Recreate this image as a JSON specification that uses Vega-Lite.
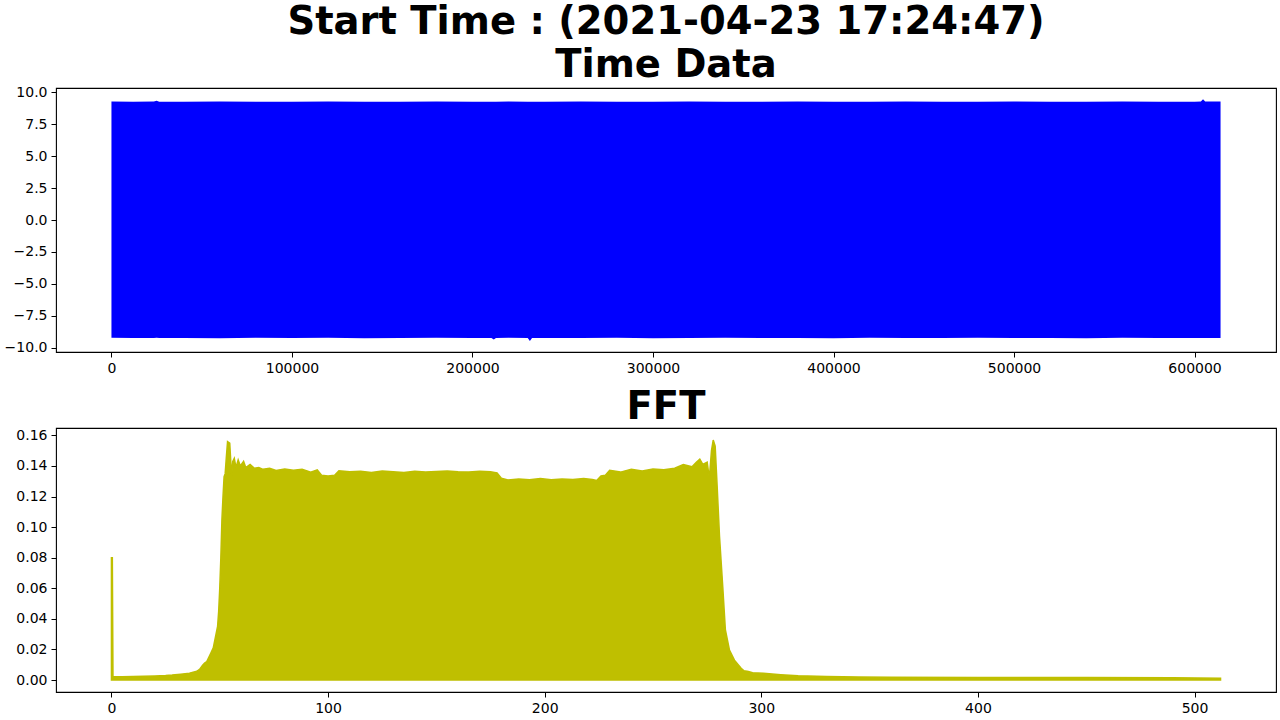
{
  "$schema": "https://vega.github.io/schema/vega-lite/v6.json",
  "padding": {"left": 3, "top": 2, "right": 4, "bottom": 0},
  "spacing": 11,
  "background": "white",
  "config": {
    "view": {"stroke": "black", "strokeWidth": 1.1},
    "font": "DejaVu Sans",
    "axis": {
      "domain": false, "grid": false, "ticks": true, "tickColor": "black", "tickSize": 5, "tickWidth": 1,
      "labelFont": "DejaVu Sans", "labelFontSize": 14, "labelColor": "black", "labelPadding": 4,
      "labelFlush": false, "labelOverlap": false, "title": null
    },
    "title": {"font": "DejaVu Sans", "fontSize": 38.5, "fontWeight": "bold", "color": "black", "anchor": "middle", "offset": 0.01, "lineHeight": 43}
  },
  "vconcat": [
    {
      "width": 1220, "height": 264,
      "title": {"text": ["Start Time : (2021-04-23 17:24:47)", "Time Data"]},
      "data": {"values": [
        {"t": 0, "hi": 9.27, "lo": -9.22},
        {"t": 12000, "hi": 9.26, "lo": -9.24},
        {"t": 23500, "hi": 9.27, "lo": -9.23},
        {"t": 25000, "hi": 9.34, "lo": -9.22},
        {"t": 26500, "hi": 9.26, "lo": -9.23},
        {"t": 40000, "hi": 9.25, "lo": -9.23},
        {"t": 60000, "hi": 9.27, "lo": -9.25},
        {"t": 80000, "hi": 9.26, "lo": -9.22},
        {"t": 100000, "hi": 9.25, "lo": -9.24},
        {"t": 120000, "hi": 9.27, "lo": -9.22},
        {"t": 140000, "hi": 9.26, "lo": -9.25},
        {"t": 160000, "hi": 9.25, "lo": -9.23},
        {"t": 180000, "hi": 9.27, "lo": -9.22},
        {"t": 200000, "hi": 9.26, "lo": -9.24},
        {"t": 210500, "hi": 9.26, "lo": -9.23},
        {"t": 211800, "hi": 9.25, "lo": -9.36},
        {"t": 213000, "hi": 9.26, "lo": -9.23},
        {"t": 220000, "hi": 9.27, "lo": -9.22},
        {"t": 230600, "hi": 9.26, "lo": -9.23},
        {"t": 231800, "hi": 9.26, "lo": -9.47},
        {"t": 233000, "hi": 9.26, "lo": -9.23},
        {"t": 240000, "hi": 9.25, "lo": -9.23},
        {"t": 260000, "hi": 9.27, "lo": -9.24},
        {"t": 280000, "hi": 9.26, "lo": -9.22},
        {"t": 300000, "hi": 9.25, "lo": -9.25},
        {"t": 320000, "hi": 9.27, "lo": -9.23},
        {"t": 340000, "hi": 9.26, "lo": -9.22},
        {"t": 360000, "hi": 9.25, "lo": -9.24},
        {"t": 380000, "hi": 9.27, "lo": -9.23},
        {"t": 400000, "hi": 9.26, "lo": -9.25},
        {"t": 420000, "hi": 9.25, "lo": -9.22},
        {"t": 440000, "hi": 9.27, "lo": -9.24},
        {"t": 460000, "hi": 9.26, "lo": -9.23},
        {"t": 480000, "hi": 9.25, "lo": -9.22},
        {"t": 500000, "hi": 9.27, "lo": -9.24},
        {"t": 520000, "hi": 9.26, "lo": -9.23},
        {"t": 540000, "hi": 9.25, "lo": -9.25},
        {"t": 560000, "hi": 9.27, "lo": -9.22},
        {"t": 580000, "hi": 9.26, "lo": -9.24},
        {"t": 600000, "hi": 9.26, "lo": -9.23},
        {"t": 603500, "hi": 9.27, "lo": -9.23},
        {"t": 604700, "hi": 9.45, "lo": -9.24},
        {"t": 605900, "hi": 9.27, "lo": -9.23},
        {"t": 614400, "hi": 9.27, "lo": -9.24}
      ]},
      "mark": {"type": "area", "color": "#0000ff", "opacity": 1},
      "encoding": {
        "x": {"field": "t", "type": "quantitative", "scale": {"domain": [-30720, 645120], "nice": false, "zero": false},
              "axis": {"values": [0, 100000, 200000, 300000, 400000, 500000, 600000], "format": "d"}},
        "y": {"field": "hi", "type": "quantitative", "scale": {"domain": [-10.33, 10.33], "nice": false, "zero": false},
              "axis": {"values": [-10, -7.5, -5, -2.5, 0, 2.5, 5, 7.5, 10], "format": ".1f"}},
        "y2": {"field": "lo"}
      }
    },
    {
      "width": 1220, "height": 264,
      "title": {"text": "FFT"},
      "data": {"values": [
        {"f": 0, "a": 0.080}, {"f": 0.4, "a": 0.080}, {"f": 0.7, "a": 0.0022},
        {"f": 5, "a": 0.0022}, {"f": 10, "a": 0.0023}, {"f": 15, "a": 0.0024}, {"f": 20, "a": 0.0026},
        {"f": 25, "a": 0.0029}, {"f": 28, "a": 0.0032}, {"f": 32, "a": 0.0038}, {"f": 36, "a": 0.0045},
        {"f": 39, "a": 0.0055}, {"f": 40, "a": 0.0062}, {"f": 41, "a": 0.0075}, {"f": 42, "a": 0.0095},
        {"f": 43, "a": 0.011}, {"f": 44, "a": 0.012}, {"f": 45, "a": 0.015}, {"f": 46, "a": 0.018},
        {"f": 47, "a": 0.021}, {"f": 48, "a": 0.028}, {"f": 49, "a": 0.035}, {"f": 49.5, "a": 0.045},
        {"f": 50, "a": 0.06}, {"f": 50.5, "a": 0.08}, {"f": 51, "a": 0.105}, {"f": 51.5, "a": 0.12},
        {"f": 52, "a": 0.133}, {"f": 52.5, "a": 0.135}, {"f": 53, "a": 0.145}, {"f": 53.6, "a": 0.156},
        {"f": 54.6, "a": 0.155}, {"f": 55.2, "a": 0.14}, {"f": 55.5, "a": 0.134}, {"f": 56, "a": 0.143},
        {"f": 56.7, "a": 0.145}, {"f": 57.5, "a": 0.139}, {"f": 58.5, "a": 0.144}, {"f": 59.5, "a": 0.14},
        {"f": 61, "a": 0.143}, {"f": 62, "a": 0.139}, {"f": 64, "a": 0.141}, {"f": 66, "a": 0.1385},
        {"f": 68, "a": 0.139}, {"f": 70, "a": 0.1378}, {"f": 73, "a": 0.1385}, {"f": 76, "a": 0.137},
        {"f": 80, "a": 0.138}, {"f": 84, "a": 0.1372}, {"f": 88, "a": 0.1378}, {"f": 92, "a": 0.136},
        {"f": 95, "a": 0.1375}, {"f": 97, "a": 0.134}, {"f": 100, "a": 0.1335}, {"f": 103, "a": 0.134},
        {"f": 105, "a": 0.1368}, {"f": 110, "a": 0.1362}, {"f": 115, "a": 0.1365}, {"f": 120, "a": 0.1358},
        {"f": 125, "a": 0.1367}, {"f": 130, "a": 0.1362}, {"f": 135, "a": 0.1358}, {"f": 140, "a": 0.1366},
        {"f": 145, "a": 0.136}, {"f": 150, "a": 0.1364}, {"f": 155, "a": 0.1368}, {"f": 160, "a": 0.1362},
        {"f": 165, "a": 0.136}, {"f": 170, "a": 0.1366}, {"f": 175, "a": 0.1362}, {"f": 178, "a": 0.1355},
        {"f": 180, "a": 0.132}, {"f": 183, "a": 0.1308}, {"f": 188, "a": 0.1315}, {"f": 193, "a": 0.131},
        {"f": 198, "a": 0.1318}, {"f": 203, "a": 0.131}, {"f": 208, "a": 0.1315}, {"f": 213, "a": 0.1312},
        {"f": 218, "a": 0.1318}, {"f": 222, "a": 0.1312}, {"f": 224, "a": 0.1305}, {"f": 226, "a": 0.1335},
        {"f": 228, "a": 0.134}, {"f": 230, "a": 0.1372}, {"f": 235, "a": 0.136}, {"f": 240, "a": 0.1378},
        {"f": 245, "a": 0.1368}, {"f": 250, "a": 0.138}, {"f": 255, "a": 0.1375}, {"f": 260, "a": 0.1385},
        {"f": 264, "a": 0.141}, {"f": 268, "a": 0.1395}, {"f": 270, "a": 0.1425}, {"f": 271.6, "a": 0.1445},
        {"f": 273, "a": 0.141}, {"f": 275, "a": 0.1425}, {"f": 276, "a": 0.132}, {"f": 277, "a": 0.15},
        {"f": 277.8, "a": 0.157}, {"f": 278.7, "a": 0.153}, {"f": 279.6, "a": 0.127}, {"f": 280.7, "a": 0.094},
        {"f": 282.2, "a": 0.061}, {"f": 283.4, "a": 0.033}, {"f": 285.3, "a": 0.0196}, {"f": 287.6, "a": 0.013},
        {"f": 290.7, "a": 0.0077}, {"f": 292, "a": 0.006}, {"f": 294, "a": 0.0055}, {"f": 296, "a": 0.0048},
        {"f": 301, "a": 0.0044}, {"f": 309, "a": 0.0035}, {"f": 317, "a": 0.0028}, {"f": 330, "a": 0.0023},
        {"f": 345, "a": 0.002}, {"f": 360, "a": 0.0018}, {"f": 400, "a": 0.0017}, {"f": 450, "a": 0.0016},
        {"f": 490, "a": 0.0014}, {"f": 512, "a": 0.0011}
      ]},
      "mark": {"type": "area", "color": "#bfbf00", "opacity": 1, "stroke": "#bfbf00", "strokeWidth": 1.5},
      "encoding": {
        "x": {"field": "f", "type": "quantitative", "scale": {"domain": [-25.6, 537.6], "nice": false, "zero": false},
              "axis": {"values": [0, 100, 200, 300, 400, 500], "format": "d"}},
        "y": {"field": "a", "type": "quantitative", "scale": {"domain": [-0.00785, 0.16485], "nice": false, "zero": false},
              "axis": {"values": [0, 0.02, 0.04, 0.06, 0.08, 0.1, 0.12, 0.14, 0.16], "format": ".2f"}},
        "y2": {"datum": 0}
      }
    }
  ]
}
